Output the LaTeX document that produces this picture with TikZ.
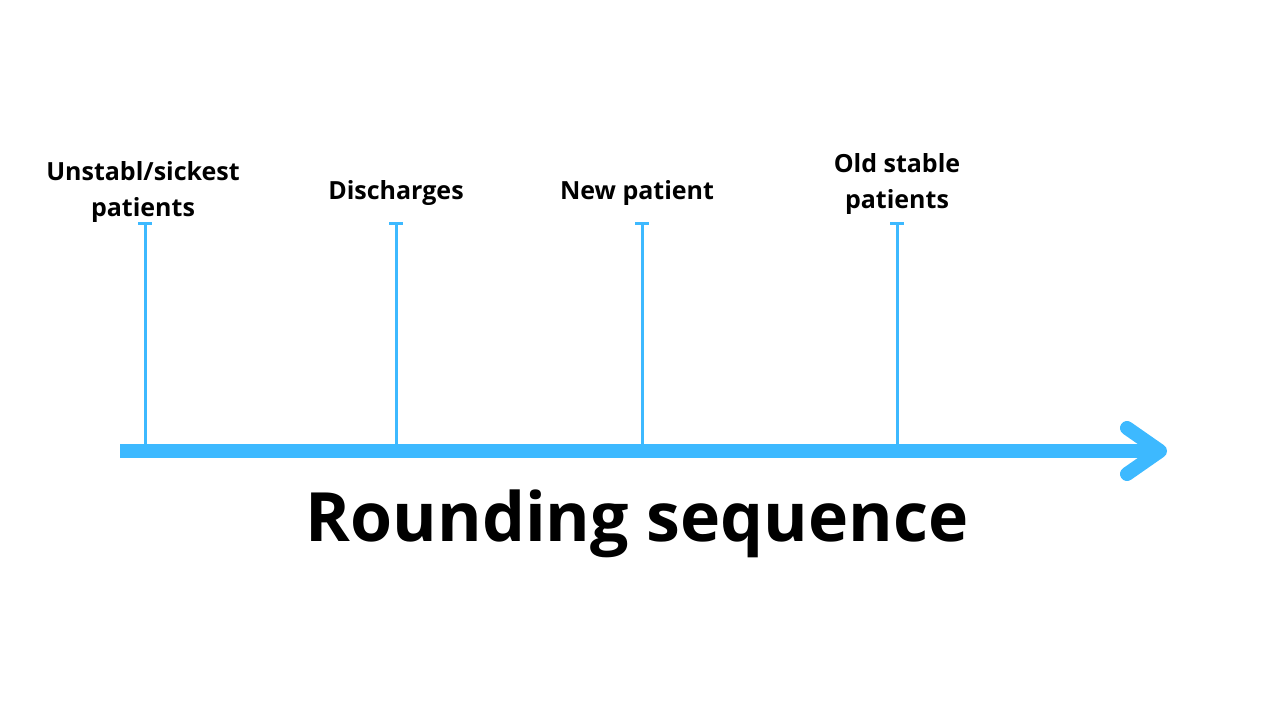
\documentclass[tikz,border=0pt]{standalone}
\usepackage{fontspec}
\setmainfont{Open Sans}
\definecolor{skyb}{HTML}{3DB9FF}
\begin{document}
\begin{tikzpicture}[x=1pt,y=-1pt,
  tick/.style={draw=skyb,line width=3pt},
  lab/.style={font=\fontsize{25}{36}\selectfont\bfseries,align=center,anchor=south}]
\useasboundingbox (0,0) rectangle (1280,720);
\coordinate (s) at (120,451);
\coordinate (e) at (1160,451);
\draw[skyb,line width=14pt] (s) -- (1150,451);
\draw[skyb,line width=14pt,line cap=round,line join=round] (1127,428) -- (e) -- (1127,474);
\foreach \n/\x in {a/145,b/396,c/642,d/897}{
  \coordinate (\n t) at (\x,223);
  \coordinate (\n b) at (\x,445);
  \draw[tick] (\n t) -- (\n b);
  \draw[tick] ([xshift=-7]\n t) -- ([xshift=7]\n t);
}
\node[lab] (la) at (143,226) {Unstabl/sickest\\patients};
\node[lab] (lb) at (396,209) {Discharges};
\node[lab] (lc) at (637,209) {New patient};
\node[lab] (ld) at (897,218) {Old stable\\patients};
\node[font=\fontsize{68}{80}\selectfont\bfseries] (title) at (637,524) {Rounding sequence};
\end{tikzpicture}
\end{document}
